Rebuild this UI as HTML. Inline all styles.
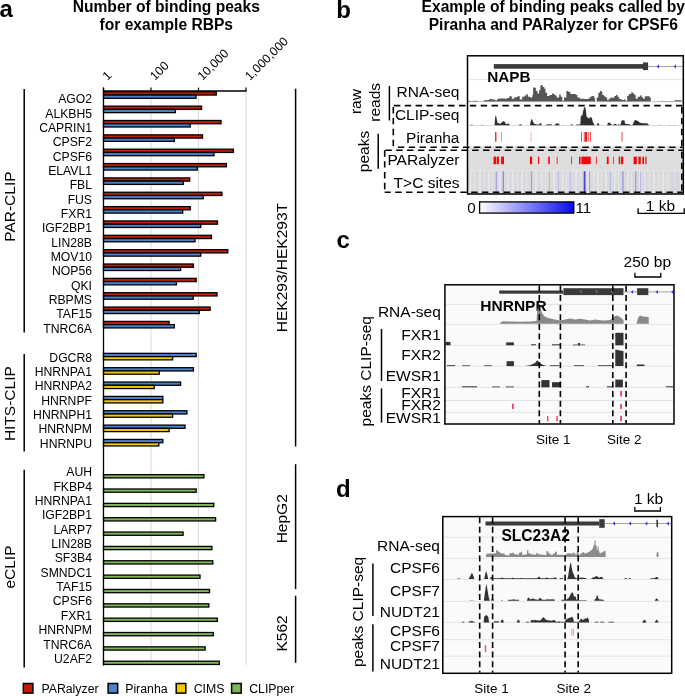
<!DOCTYPE html>
<html><head><meta charset="utf-8"><title>Figure</title>
<style>html,body{margin:0;padding:0;background:#fff;width:685px;height:696px;overflow:hidden}svg{display:block}</style>
</head><body>
<svg width="685" height="696" viewBox="0 0 685 696" font-family="'Liberation Sans', Arial, Helvetica, sans-serif" fill="#000">
<rect width="685" height="696" fill="#fff"/>
<text x="-0.6" y="16.6" font-size="24" font-weight="bold">a</text>
<text x="166.3" y="12" font-size="15.6" font-weight="bold" text-anchor="middle">Number of binding peaks</text>
<text x="166.3" y="29.8" font-size="15.6" font-weight="bold" text-anchor="middle">for example RBPs</text>
<line x1="151.00" y1="91" x2="151.00" y2="665" stroke="#d9d9d9" stroke-width="1"/>
<line x1="198.50" y1="91" x2="198.50" y2="665" stroke="#d9d9d9" stroke-width="1"/>
<line x1="246.00" y1="91" x2="246.00" y2="665" stroke="#d9d9d9" stroke-width="1"/>
<text transform="translate(107.50,81.0) rotate(-45)" font-size="12.4">1</text>
<text transform="translate(155.00,81.0) rotate(-45)" font-size="12.4">100</text>
<text transform="translate(202.50,81.0) rotate(-45)" font-size="12.4">10,000</text>
<text transform="translate(250.00,81.0) rotate(-45)" font-size="12.4">1,000,000</text>
<rect x="103.50" y="91.80" width="112.80" height="3.25" fill="#c41a08" stroke="#000" stroke-width="1.3"/>
<rect x="103.50" y="95.05" width="92.50" height="3.25" fill="#4a82cc" stroke="#000" stroke-width="1.3"/>
<text x="92" y="103.20" font-size="12.2" text-anchor="end">AGO2</text>
<rect x="103.50" y="106.15" width="98.10" height="3.25" fill="#c41a08" stroke="#000" stroke-width="1.3"/>
<rect x="103.50" y="109.40" width="71.90" height="3.25" fill="#4a82cc" stroke="#000" stroke-width="1.3"/>
<text x="92" y="117.55" font-size="12.2" text-anchor="end">ALKBH5</text>
<rect x="103.50" y="120.50" width="117.50" height="3.25" fill="#c41a08" stroke="#000" stroke-width="1.3"/>
<rect x="103.50" y="123.75" width="86.70" height="3.25" fill="#4a82cc" stroke="#000" stroke-width="1.3"/>
<text x="92" y="131.90" font-size="12.2" text-anchor="end">CAPRIN1</text>
<rect x="103.50" y="134.85" width="99.00" height="3.25" fill="#c41a08" stroke="#000" stroke-width="1.3"/>
<rect x="103.50" y="138.10" width="70.80" height="3.25" fill="#4a82cc" stroke="#000" stroke-width="1.3"/>
<text x="92" y="146.25" font-size="12.2" text-anchor="end">CPSF2</text>
<rect x="103.50" y="149.20" width="129.90" height="3.25" fill="#c41a08" stroke="#000" stroke-width="1.3"/>
<rect x="103.50" y="152.45" width="110.50" height="3.25" fill="#4a82cc" stroke="#000" stroke-width="1.3"/>
<text x="92" y="160.60" font-size="12.2" text-anchor="end">CPSF6</text>
<rect x="103.50" y="163.55" width="122.90" height="3.25" fill="#c41a08" stroke="#000" stroke-width="1.3"/>
<rect x="103.50" y="166.80" width="93.90" height="3.25" fill="#4a82cc" stroke="#000" stroke-width="1.3"/>
<text x="92" y="174.95" font-size="12.2" text-anchor="end">ELAVL1</text>
<rect x="103.50" y="177.90" width="86.20" height="3.25" fill="#c41a08" stroke="#000" stroke-width="1.3"/>
<rect x="103.50" y="181.15" width="79.90" height="3.25" fill="#4a82cc" stroke="#000" stroke-width="1.3"/>
<text x="92" y="189.30" font-size="12.2" text-anchor="end">FBL</text>
<rect x="103.50" y="192.25" width="118.40" height="3.25" fill="#c41a08" stroke="#000" stroke-width="1.3"/>
<rect x="103.50" y="195.50" width="99.70" height="3.25" fill="#4a82cc" stroke="#000" stroke-width="1.3"/>
<text x="92" y="203.65" font-size="12.2" text-anchor="end">FUS</text>
<rect x="103.50" y="206.60" width="86.70" height="3.25" fill="#c41a08" stroke="#000" stroke-width="1.3"/>
<rect x="103.50" y="209.85" width="79.20" height="3.25" fill="#4a82cc" stroke="#000" stroke-width="1.3"/>
<text x="92" y="218.00" font-size="12.2" text-anchor="end">FXR1</text>
<rect x="103.50" y="220.95" width="114.00" height="3.25" fill="#c41a08" stroke="#000" stroke-width="1.3"/>
<rect x="103.50" y="224.20" width="97.20" height="3.25" fill="#4a82cc" stroke="#000" stroke-width="1.3"/>
<text x="92" y="232.35" font-size="12.2" text-anchor="end">IGF2BP1</text>
<rect x="103.50" y="235.30" width="107.90" height="3.25" fill="#c41a08" stroke="#000" stroke-width="1.3"/>
<rect x="103.50" y="238.55" width="91.50" height="3.25" fill="#4a82cc" stroke="#000" stroke-width="1.3"/>
<text x="92" y="246.70" font-size="12.2" text-anchor="end">LIN28B</text>
<rect x="103.50" y="249.65" width="124.30" height="3.25" fill="#c41a08" stroke="#000" stroke-width="1.3"/>
<rect x="103.50" y="252.90" width="97.20" height="3.25" fill="#4a82cc" stroke="#000" stroke-width="1.3"/>
<text x="92" y="261.05" font-size="12.2" text-anchor="end">MOV10</text>
<rect x="103.50" y="264.00" width="89.90" height="3.25" fill="#c41a08" stroke="#000" stroke-width="1.3"/>
<rect x="103.50" y="267.25" width="77.10" height="3.25" fill="#4a82cc" stroke="#000" stroke-width="1.3"/>
<text x="92" y="275.40" font-size="12.2" text-anchor="end">NOP56</text>
<rect x="103.50" y="278.35" width="92.70" height="3.25" fill="#c41a08" stroke="#000" stroke-width="1.3"/>
<rect x="103.50" y="281.60" width="72.90" height="3.25" fill="#4a82cc" stroke="#000" stroke-width="1.3"/>
<text x="92" y="289.75" font-size="12.2" text-anchor="end">QKI</text>
<rect x="103.50" y="292.70" width="113.50" height="3.25" fill="#c41a08" stroke="#000" stroke-width="1.3"/>
<rect x="103.50" y="295.95" width="89.70" height="3.25" fill="#4a82cc" stroke="#000" stroke-width="1.3"/>
<text x="92" y="304.10" font-size="12.2" text-anchor="end">RBPMS</text>
<rect x="103.50" y="307.05" width="106.60" height="3.25" fill="#c41a08" stroke="#000" stroke-width="1.3"/>
<rect x="103.50" y="310.30" width="95.80" height="3.25" fill="#4a82cc" stroke="#000" stroke-width="1.3"/>
<text x="92" y="318.45" font-size="12.2" text-anchor="end">TAF15</text>
<rect x="103.50" y="321.40" width="65.60" height="3.25" fill="#c41a08" stroke="#000" stroke-width="1.3"/>
<rect x="103.50" y="324.65" width="70.80" height="3.25" fill="#4a82cc" stroke="#000" stroke-width="1.3"/>
<text x="92" y="332.80" font-size="12.2" text-anchor="end">TNRC6A</text>
<rect x="103.50" y="353.35" width="92.70" height="3.25" fill="#4a82cc" stroke="#000" stroke-width="1.3"/>
<rect x="103.50" y="356.60" width="69.10" height="3.25" fill="#f8c800" stroke="#000" stroke-width="1.3"/>
<text x="92" y="361.50" font-size="12.2" text-anchor="end">DGCR8</text>
<rect x="103.50" y="367.70" width="89.90" height="3.25" fill="#4a82cc" stroke="#000" stroke-width="1.3"/>
<rect x="103.50" y="370.95" width="55.80" height="3.25" fill="#f8c800" stroke="#000" stroke-width="1.3"/>
<text x="92" y="375.85" font-size="12.2" text-anchor="end">HNRNPA1</text>
<rect x="103.50" y="382.05" width="77.10" height="3.25" fill="#4a82cc" stroke="#000" stroke-width="1.3"/>
<rect x="103.50" y="385.30" width="50.70" height="3.25" fill="#f8c800" stroke="#000" stroke-width="1.3"/>
<text x="92" y="390.20" font-size="12.2" text-anchor="end">HNRNPA2</text>
<rect x="103.50" y="396.40" width="59.30" height="3.25" fill="#4a82cc" stroke="#000" stroke-width="1.3"/>
<rect x="103.50" y="399.65" width="59.30" height="3.25" fill="#f8c800" stroke="#000" stroke-width="1.3"/>
<text x="92" y="404.55" font-size="12.2" text-anchor="end">HNRNPF</text>
<rect x="103.50" y="410.75" width="83.40" height="3.25" fill="#4a82cc" stroke="#000" stroke-width="1.3"/>
<rect x="103.50" y="414.00" width="69.10" height="3.25" fill="#f8c800" stroke="#000" stroke-width="1.3"/>
<text x="92" y="418.90" font-size="12.2" text-anchor="end">HNRNPH1</text>
<rect x="103.50" y="425.10" width="81.50" height="3.25" fill="#4a82cc" stroke="#000" stroke-width="1.3"/>
<rect x="103.50" y="428.35" width="65.60" height="3.25" fill="#f8c800" stroke="#000" stroke-width="1.3"/>
<text x="92" y="433.25" font-size="12.2" text-anchor="end">HNRNPM</text>
<rect x="103.50" y="439.45" width="59.30" height="3.25" fill="#4a82cc" stroke="#000" stroke-width="1.3"/>
<rect x="103.50" y="442.70" width="55.30" height="3.25" fill="#f8c800" stroke="#000" stroke-width="1.3"/>
<text x="92" y="447.60" font-size="12.2" text-anchor="end">HNRNPU</text>
<rect x="103.50" y="474.65" width="100.40" height="3.25" fill="#7db65a" stroke="#000" stroke-width="1.3"/>
<text x="92" y="476.30" font-size="12.2" text-anchor="end">AUH</text>
<rect x="103.50" y="489.00" width="92.70" height="3.25" fill="#7db65a" stroke="#000" stroke-width="1.3"/>
<text x="92" y="490.65" font-size="12.2" text-anchor="end">FKBP4</text>
<rect x="103.50" y="503.35" width="110.30" height="3.25" fill="#7db65a" stroke="#000" stroke-width="1.3"/>
<text x="92" y="505.00" font-size="12.2" text-anchor="end">HNRNPA1</text>
<rect x="103.50" y="517.70" width="112.10" height="3.25" fill="#7db65a" stroke="#000" stroke-width="1.3"/>
<text x="92" y="519.35" font-size="12.2" text-anchor="end">IGF2BP1</text>
<rect x="103.50" y="532.05" width="79.60" height="3.25" fill="#7db65a" stroke="#000" stroke-width="1.3"/>
<text x="92" y="533.70" font-size="12.2" text-anchor="end">LARP7</text>
<rect x="103.50" y="546.40" width="108.40" height="3.25" fill="#7db65a" stroke="#000" stroke-width="1.3"/>
<text x="92" y="548.05" font-size="12.2" text-anchor="end">LIN28B</text>
<rect x="103.50" y="560.75" width="109.30" height="3.25" fill="#7db65a" stroke="#000" stroke-width="1.3"/>
<text x="92" y="562.40" font-size="12.2" text-anchor="end">SF3B4</text>
<rect x="103.50" y="575.10" width="96.50" height="3.25" fill="#7db65a" stroke="#000" stroke-width="1.3"/>
<text x="92" y="576.75" font-size="12.2" text-anchor="end">SMNDC1</text>
<rect x="103.50" y="589.45" width="106.00" height="3.25" fill="#7db65a" stroke="#000" stroke-width="1.3"/>
<text x="92" y="591.10" font-size="12.2" text-anchor="end">TAF15</text>
<rect x="103.50" y="603.80" width="105.30" height="3.25" fill="#7db65a" stroke="#000" stroke-width="1.3"/>
<text x="92" y="605.45" font-size="12.2" text-anchor="end">CPSF6</text>
<rect x="103.50" y="618.15" width="113.80" height="3.25" fill="#7db65a" stroke="#000" stroke-width="1.3"/>
<text x="92" y="619.80" font-size="12.2" text-anchor="end">FXR1</text>
<rect x="103.50" y="632.50" width="109.80" height="3.25" fill="#7db65a" stroke="#000" stroke-width="1.3"/>
<text x="92" y="634.15" font-size="12.2" text-anchor="end">HNRNPM</text>
<rect x="103.50" y="646.85" width="101.60" height="3.25" fill="#7db65a" stroke="#000" stroke-width="1.3"/>
<text x="92" y="648.50" font-size="12.2" text-anchor="end">TNRC6A</text>
<rect x="103.50" y="661.20" width="115.80" height="3.25" fill="#7db65a" stroke="#000" stroke-width="1.3"/>
<text x="92" y="662.85" font-size="12.2" text-anchor="end">U2AF2</text>
<line x1="103.5" y1="91" x2="246.60" y2="91" stroke="#000" stroke-width="1.3"/>
<line x1="103.50" y1="87.6" x2="103.50" y2="91" stroke="#000" stroke-width="1.2"/>
<line x1="151.00" y1="87.6" x2="151.00" y2="91" stroke="#000" stroke-width="1.2"/>
<line x1="198.50" y1="87.6" x2="198.50" y2="91" stroke="#000" stroke-width="1.2"/>
<line x1="246.00" y1="87.6" x2="246.00" y2="91" stroke="#000" stroke-width="1.2"/>
<line x1="103.5" y1="87.6" x2="103.5" y2="665.5" stroke="#000" stroke-width="1.3"/>
<line x1="24.2" y1="89" x2="24.2" y2="332.5" stroke="#000" stroke-width="1.5"/>
<line x1="24.2" y1="354" x2="24.2" y2="451.6" stroke="#000" stroke-width="1.5"/>
<line x1="24.2" y1="469.8" x2="24.2" y2="667.5" stroke="#000" stroke-width="1.5"/>
<text transform="translate(15.0,206.6) rotate(-90)" font-size="15.5" text-anchor="middle">PAR-CLIP</text>
<text transform="translate(15.0,403.65) rotate(-90)" font-size="15.5" text-anchor="middle">HITS-CLIP</text>
<text transform="translate(15.0,567.05) rotate(-90)" font-size="15.5" text-anchor="middle">eCLIP</text>
<line x1="295.6" y1="88.8" x2="295.6" y2="446.6" stroke="#000" stroke-width="1.5"/>
<line x1="295.6" y1="464.2" x2="295.6" y2="589.1" stroke="#000" stroke-width="1.5"/>
<line x1="295.6" y1="595.7" x2="295.6" y2="662.8" stroke="#000" stroke-width="1.5"/>
<text transform="translate(287.2,267.6) rotate(-90)" font-size="15.5" text-anchor="middle">HEK293/HEK293T</text>
<text transform="translate(287.2,518.8) rotate(-90)" font-size="15.5" text-anchor="middle">HepG2</text>
<text transform="translate(287.2,633.4) rotate(-90)" font-size="15.5" text-anchor="middle">K562</text>
<rect x="23.3" y="683.5" width="9.6" height="9.6" fill="#c41a08" stroke="#000" stroke-width="1.5"/>
<text x="41.4" y="692.5" font-size="12.3">PARalyzer</text>
<rect x="108.1" y="683.5" width="9.6" height="9.6" fill="#4a82cc" stroke="#000" stroke-width="1.5"/>
<text x="125.2" y="692.5" font-size="12.3">Piranha</text>
<rect x="176.2" y="683.5" width="9.6" height="9.6" fill="#f8c800" stroke="#000" stroke-width="1.5"/>
<text x="193.7" y="692.5" font-size="12.3">CIMS</text>
<rect x="231.6" y="683.5" width="9.6" height="9.6" fill="#7db65a" stroke="#000" stroke-width="1.5"/>
<text x="249.2" y="692.5" font-size="12.3">CLIPper</text>
<text x="336.2" y="17.6" font-size="24" font-weight="bold">b</text>
<text x="553.3" y="11.8" font-size="15.6" font-weight="bold" text-anchor="middle">Example of binding peaks called by</text>
<text x="553.3" y="29.5" font-size="15.6" font-weight="bold" text-anchor="middle">Piranha and PARalyzer for CPSF6</text>
<rect x="467.5" y="55.8" width="215.79999999999995" height="138.2" fill="#fff"/>
<rect x="467.5" y="146.3" width="215.79999999999995" height="47.69999999999999" fill="#dedede"/>
<rect x="467.5" y="171" width="215.79999999999995" height="23.0" fill="#dadada"/>
<rect x="470" y="171" width="1.5" height="23.0" fill="#e4e4ea"/>
<rect x="474" y="171" width="1" height="23.0" fill="#e4e4ea"/>
<rect x="479" y="171" width="2" height="23.0" fill="#e4e4ea"/>
<rect x="484" y="171" width="1" height="23.0" fill="#e4e4ea"/>
<rect x="488" y="171" width="2" height="23.0" fill="#e4e4ea"/>
<rect x="492" y="171" width="1" height="23.0" fill="#e4e4ea"/>
<rect x="499" y="171" width="2" height="23.0" fill="#e4e4ea"/>
<rect x="507" y="171" width="1.5" height="23.0" fill="#e4e4ea"/>
<rect x="512" y="171" width="2" height="23.0" fill="#e4e4ea"/>
<rect x="517" y="171" width="1" height="23.0" fill="#e4e4ea"/>
<rect x="521" y="171" width="2" height="23.0" fill="#e4e4ea"/>
<rect x="526" y="171" width="1" height="23.0" fill="#e4e4ea"/>
<rect x="535" y="171" width="2" height="23.0" fill="#e4e4ea"/>
<rect x="541" y="171" width="1.5" height="23.0" fill="#e4e4ea"/>
<rect x="545" y="171" width="1" height="23.0" fill="#e4e4ea"/>
<rect x="553" y="171" width="2" height="23.0" fill="#e4e4ea"/>
<rect x="562" y="171" width="1.5" height="23.0" fill="#e4e4ea"/>
<rect x="566" y="171" width="1" height="23.0" fill="#e4e4ea"/>
<rect x="575" y="171" width="2" height="23.0" fill="#e4e4ea"/>
<rect x="580" y="171" width="1" height="23.0" fill="#e4e4ea"/>
<rect x="587" y="171" width="2" height="23.0" fill="#e4e4ea"/>
<rect x="593" y="171" width="1.5" height="23.0" fill="#e4e4ea"/>
<rect x="597" y="171" width="2" height="23.0" fill="#e4e4ea"/>
<rect x="601" y="171" width="1" height="23.0" fill="#e4e4ea"/>
<rect x="605" y="171" width="2" height="23.0" fill="#e4e4ea"/>
<rect x="614" y="171" width="1.5" height="23.0" fill="#e4e4ea"/>
<rect x="618" y="171" width="1" height="23.0" fill="#e4e4ea"/>
<rect x="627" y="171" width="2" height="23.0" fill="#e4e4ea"/>
<rect x="631" y="171" width="1" height="23.0" fill="#e4e4ea"/>
<rect x="639" y="171" width="2" height="23.0" fill="#e4e4ea"/>
<rect x="644" y="171" width="1.5" height="23.0" fill="#e4e4ea"/>
<rect x="649" y="171" width="1" height="23.0" fill="#e4e4ea"/>
<rect x="653" y="171" width="2" height="23.0" fill="#e4e4ea"/>
<rect x="658" y="171" width="1" height="23.0" fill="#e4e4ea"/>
<rect x="662" y="171" width="2" height="23.0" fill="#e4e4ea"/>
<rect x="667" y="171" width="1" height="23.0" fill="#e4e4ea"/>
<rect x="671" y="171" width="1.5" height="23.0" fill="#e4e4ea"/>
<rect x="676" y="171" width="1" height="23.0" fill="#e4e4ea"/>
<rect x="680" y="171" width="1.5" height="23.0" fill="#e4e4ea"/>
<rect x="495.75" y="171" width="1.1" height="23.0" fill="#a0a0e2"/>
<rect x="502.65" y="171" width="1.3" height="23.0" fill="#8a8ae0"/>
<rect x="530.90" y="171" width="1.2" height="23.0" fill="#a0a0e6"/>
<rect x="549.00" y="171" width="1" height="23.0" fill="#b8b8ea"/>
<rect x="557.80" y="171" width="1" height="23.0" fill="#b8b8ea"/>
<rect x="569.90" y="171" width="1" height="23.0" fill="#bcbcec"/>
<rect x="583.70" y="171" width="1.8" height="23.0" fill="#4848d0"/>
<rect x="588.90" y="171" width="1.2" height="23.0" fill="#a4a4e8"/>
<rect x="609.80" y="171" width="1" height="23.0" fill="#b4b4ea"/>
<rect x="622.25" y="171" width="1.3" height="23.0" fill="#9898e2"/>
<rect x="635.05" y="171" width="1.3" height="23.0" fill="#9c9ce4"/>
<rect x="640.00" y="171" width="1" height="23.0" fill="#bcbcec"/>
<rect x="671.50" y="171" width="1" height="23.0" fill="#c4c4ee"/>
<rect x="676.50" y="171" width="1" height="23.0" fill="#c8c8ee"/>
<line x1="467.5" y1="170.8" x2="683.3" y2="170.8" stroke="#e6e6e6" stroke-width="0.8"/>
<line x1="467.5" y1="79.6" x2="683.3" y2="79.6" stroke="#e0e0e6" stroke-width="0.8"/>
<line x1="467.5" y1="101.8" x2="683.3" y2="101.8" stroke="#d8d8e0" stroke-width="0.8"/>
<line x1="467.5" y1="125.5" x2="683.3" y2="125.5" stroke="#d0d0e0" stroke-width="0.8"/>
<path d="M467.61,101.60 L467.61,100.69 L470.01,100.69 L470.01,101.02 L473.23,101.02 L473.23,100.69 L477.24,100.69 L477.24,101.18 L480.45,101.18 L480.45,101.18 L483.67,101.18 L483.67,100.37 L486.88,100.37 L486.88,99.89 L489.29,99.89 L489.29,99.09 L491.69,99.09 L491.69,99.41 L494.91,99.41 L494.91,100.37 L497.32,100.37 L497.32,98.77 L499.72,98.77 L499.72,98.45 L504.54,98.45 L504.54,98.77 L506.95,98.77 L506.95,97.96 L509.36,97.96 L509.36,96.20 L511.77,96.20 L511.77,98.77 L514.18,98.77 L514.18,97.16 L517.39,97.16 L517.39,96.36 L519.80,96.36 L519.80,99.41 L522.21,99.41 L522.21,96.68 L524.62,96.68 L524.62,95.56 L526.22,95.56 L526.22,94.27 L527.83,94.27 L527.83,96.68 L530.24,96.68 L530.24,97.48 L532.32,97.48 L532.32,95.07 L533.13,95.07 L533.13,87.53 L534.73,87.53 L534.73,87.85 L535.86,87.85 L535.86,91.06 L537.46,91.06 L537.46,93.47 L539.07,93.47 L539.07,90.26 L540.35,90.26 L540.35,85.44 L541.48,85.44 L541.48,84.96 L542.76,84.96 L542.76,87.04 L544.37,87.04 L544.37,88.65 L545.49,88.65 L545.49,92.67 L547.10,92.67 L547.10,95.88 L549.51,95.88 L549.51,95.07 L551.92,95.07 L551.92,93.47 L553.52,93.47 L553.52,94.27 L555.13,94.27 L555.13,95.56 L556.73,95.56 L556.73,97.48 L559.14,97.48 L559.14,94.59 L560.75,94.59 L560.75,96.68 L562.35,96.68 L562.35,100.69 L563.96,100.69 L563.96,97.48 L566.37,97.48 L566.37,91.06 L567.98,91.06 L567.98,91.86 L570.38,91.86 L570.38,93.95 L572.79,93.95 L572.79,93.95 L575.80,93.95 L575.80,98.29 L575.84,98.29 L575.84,95.07 L577.41,95.07 L577.41,97.48 L579.82,97.48 L579.82,98.77 L584.64,98.77 L584.64,99.09 L587.85,99.09 L587.85,98.77 L589.45,98.77 L589.45,97.16 L591.06,97.16 L591.06,96.20 L592.67,96.20 L592.67,95.88 L594.27,95.88 L594.27,98.29 L595.07,98.29 L595.07,101.50 L596.68,101.50 L596.68,97.48 L598.29,97.48 L598.29,92.67 L599.89,92.67 L599.89,91.06 L601.50,91.06 L601.50,91.86 L602.30,91.86 L602.30,95.07 L603.91,95.07 L603.91,96.20 L605.51,96.20 L605.51,97.48 L607.12,97.48 L607.12,99.89 L608.72,99.89 L608.72,98.77 L610.33,98.77 L610.33,97.48 L611.94,97.48 L611.94,97.80 L614.34,97.80 L614.34,95.88 L615.95,95.88 L615.95,95.07 L617.56,95.07 L617.56,96.68 L619.16,96.68 L619.16,99.09 L621.57,99.09 L621.57,99.89 L623.98,99.89 L623.98,99.41 L625.59,99.41 L625.59,100.69 L627.19,100.69 L627.19,95.88 L628.80,95.88 L628.80,93.95 L631.21,93.95 L631.21,92.34 L632.81,92.34 L632.81,93.47 L634.42,93.47 L634.42,95.07 L635.70,95.07 L635.70,98.77 L637.63,98.77 L637.63,96.68 L640.04,96.68 L640.04,95.56 L641.65,95.56 L641.65,97.16 L643.25,97.16 L643.25,98.77 L644.86,98.77 L644.86,96.20 L647.27,96.20 L647.27,96.36 L649.67,96.36 L649.67,97.48 L650.80,97.48 L650.80,101.50 L652.08,101.50 L652.08,101.82 L660.92,101.82 L660.92,101.82 L661.72,101.82 L661.72,100.69 L663.00,100.69 L663.00,101.82 L664.13,101.82 L664.13,101.02 L665.25,101.02 L665.25,101.82 L666.54,101.82 L666.54,101.02 L667.82,101.02 L667.82,101.82 L670.55,101.82 L670.55,101.02 L672.16,101.02 L672.16,101.82 L674.57,101.82 L674.57,100.37 L677.78,100.37 L677.78,100.37 L680.99,100.37 L680.99,100.69 L682.27,100.69 L682.27,101.66 L682.27,101.60 Z" fill="#555555"/>
<path d="M470.82,125.30 L470.82,125.29 L471.62,124.48 L473.23,125.29 L481.26,125.29 L482.06,124.64 L483.67,125.29 L494.59,125.29 L494.91,119.67 L495.39,115.65 L496.19,116.13 L496.83,119.67 L497.48,122.88 L498.92,123.36 L500.53,123.68 L502.13,122.07 L503.26,121.27 L504.54,121.59 L505.67,123.68 L506.95,124.16 L508.07,123.20 L509.04,124.00 L509.68,125.29 L519.00,125.29 L519.80,124.16 L521.40,124.48 L522.21,125.29 L529.92,125.29 L530.56,122.07 L531.52,118.86 L532.32,119.99 L533.13,122.07 L534.25,123.68 L536.66,124.48 L539.07,124.48 L539.87,123.20 L541.16,123.36 L541.80,125.29 L545.49,125.29 L546.30,124.48 L551.11,124.32 L552.72,125.29 L554.33,125.29 L555.13,124.32 L557.22,123.36 L558.82,123.68 L559.95,125.29 L562.35,125.29 L563.16,124.64 L563.96,125.29 L570.38,125.29 L571.19,124.16 L572.31,124.48 L573.27,125.29 L575.80,125.29 L575.84,125.29 L576.61,124.48 L579.01,124.48 L580.30,124.48 L580.78,115.65 L582.23,115.65 L583.03,111.64 L583.83,108.42 L584.64,106.82 L585.28,107.14 L585.92,110.83 L586.56,116.45 L587.20,117.26 L588.17,118.06 L589.13,118.86 L589.93,117.26 L591.06,117.26 L591.86,118.06 L592.67,121.27 L593.95,124.16 L595.07,125.29 L596.68,125.29 L597.48,123.20 L598.77,123.20 L599.41,125.29 L607.12,125.29 L607.92,122.88 L609.53,122.56 L611.13,124.16 L612.74,125.29 L614.34,124.00 L615.95,124.00 L617.56,125.29 L618.36,124.48 L620.77,124.48 L621.57,120.47 L623.18,120.15 L624.46,120.47 L625.10,123.68 L627.19,124.00 L629.60,124.16 L631.21,125.29 L632.81,124.48 L634.10,121.27 L635.22,119.99 L636.83,120.47 L638.43,121.59 L639.56,122.56 L642.45,123.20 L645.66,123.20 L648.07,123.68 L648.87,125.29 L659.31,125.29 L660.11,124.80 L660.92,125.29 L668.95,125.29 L669.75,124.80 L670.55,125.29 L673.28,125.29 L674.08,124.80 L674.89,125.29 L680.99,125.29 L680.99,125.30 Z" fill="#2e2e2e"/>
<rect x="495.1" y="132" width="1.30" height="9.7" fill="#ee1a1a"/>
<rect x="501.3" y="132" width="0.70" height="9.7" fill="#f06060"/>
<rect x="530.7" y="132" width="0.60" height="9.7" fill="#f07070"/>
<rect x="581.0" y="132" width="0.80" height="9.7" fill="#ee1a1a"/>
<rect x="583.8" y="132" width="0.80" height="9.7" fill="#ee1a1a"/>
<rect x="585.0" y="132" width="2.00" height="9.7" fill="#ee1a1a"/>
<rect x="587.8" y="132" width="0.80" height="9.7" fill="#ee1a1a"/>
<rect x="589.9" y="132" width="1.00" height="9.7" fill="#f04848"/>
<rect x="621.6" y="132" width="0.80" height="9.7" fill="#ee1a1a"/>
<rect x="493.5" y="156.6" width="2.50" height="7.6" fill="#f00a0a"/>
<rect x="496.6" y="156.6" width="2.30" height="7.6" fill="#f00a0a"/>
<rect x="501.1" y="156.6" width="2.90" height="7.6" fill="#f00a0a"/>
<rect x="529.9" y="156.6" width="2.30" height="7.6" fill="#f00a0a"/>
<rect x="538" y="156.6" width="1.10" height="7.6" fill="#f00a0a"/>
<rect x="548.2" y="156.6" width="1.60" height="7.6" fill="#f00a0a"/>
<rect x="556.7" y="156.6" width="0.80" height="7.6" fill="#f00a0a"/>
<rect x="571.2" y="156.6" width="0.80" height="7.6" fill="#f00a0a"/>
<rect x="579" y="156.6" width="1.60" height="7.6" fill="#f00a0a"/>
<rect x="581.4" y="156.6" width="9.30" height="7.6" fill="#f00a0a"/>
<rect x="595.9" y="156.6" width="0.80" height="7.6" fill="#f00a0a"/>
<rect x="606.8" y="156.6" width="1.90" height="7.6" fill="#f00a0a"/>
<rect x="613.2" y="156.6" width="0.70" height="7.6" fill="#f00a0a"/>
<rect x="618.7" y="156.6" width="1.30" height="7.6" fill="#f00a0a"/>
<rect x="620.8" y="156.6" width="2.40" height="7.6" fill="#f00a0a"/>
<rect x="633.6" y="156.6" width="3.20" height="7.6" fill="#f00a0a"/>
<rect x="638.4" y="156.6" width="2.40" height="7.6" fill="#f00a0a"/>
<rect x="642.4" y="156.6" width="1.60" height="7.6" fill="#f00a0a"/>
<rect x="645.3" y="156.6" width="1.20" height="7.6" fill="#f00a0a"/>
<rect x="493.8" y="64.1" width="149.5" height="4.6" fill="#3a3a3a"/>
<rect x="643" y="62.4" width="5.1" height="7.7" fill="#3a3a3a"/>
<line x1="648" y1="66.5" x2="683" y2="66.5" stroke="#8a8a8a" stroke-width="0.8"/>
<path d="M656.6,66.5 L659.0,64.6 L659.0,68.4 Z" fill="#3030f0"/>
<path d="M673.6,66.5 L676.0,64.6 L676.0,68.4 Z" fill="#3030f0"/>
<text x="487.2" y="82" font-size="15.3" font-weight="bold">NAPB</text>
<rect x="467.5" y="55.8" width="215.8" height="138.2" fill="none" stroke="#000" stroke-width="1.5"/>
<line x1="393.3" y1="105.6" x2="682.5" y2="105.6" stroke="#000" stroke-width="1.6" stroke-dasharray="6.4 4.45" stroke-dashoffset="-0.6"/>
<line x1="393.3" y1="147.3" x2="682.5" y2="147.3" stroke="#000" stroke-width="1.6" stroke-dasharray="6.4 4.45" stroke-dashoffset="-4.6"/>
<line x1="393.3" y1="105.6" x2="393.3" y2="147.3" stroke="#000" stroke-width="1.6" stroke-dasharray="6.4 4.45" stroke-dashoffset="-1.5"/>
<line x1="681.8" y1="105.6" x2="681.8" y2="147.3" stroke="#000" stroke-width="1.6" stroke-dasharray="6.4 4.45" stroke-dashoffset="-1.5"/>
<line x1="384.7" y1="150.3" x2="682.5" y2="150.3" stroke="#000" stroke-width="1.6" stroke-dasharray="6.4 4.45" stroke-dashoffset="-0.7"/>
<line x1="384.7" y1="192.2" x2="682.5" y2="192.2" stroke="#000" stroke-width="1.6" stroke-dasharray="6.4 4.45" stroke-dashoffset="-10.5"/>
<line x1="384.7" y1="150.3" x2="384.7" y2="192.2" stroke="#000" stroke-width="1.6" stroke-dasharray="6.4 4.45" stroke-dashoffset="0"/>
<line x1="681.8" y1="150.3" x2="681.8" y2="192.2" stroke="#000" stroke-width="1.6" stroke-dasharray="6.4 4.45" stroke-dashoffset="-1.5"/>
<text x="459.5" y="97.2" font-size="15.5" text-anchor="end">RNA-seq</text>
<text x="459.5" y="120" font-size="15.5" text-anchor="end">CLIP-seq</text>
<text x="459.5" y="142.6" font-size="15.5" text-anchor="end">Piranha</text>
<text x="459.5" y="165" font-size="15.5" text-anchor="end">PARalyzer</text>
<text x="459.5" y="187.5" font-size="15.5" text-anchor="end">T&gt;C sites</text>
<text transform="translate(361,101.6) rotate(-90)" font-size="15.5" text-anchor="middle">raw</text>
<text transform="translate(379.8,102.3) rotate(-90)" font-size="15.5" text-anchor="middle">reads</text>
<line x1="389.4" y1="86" x2="389.4" y2="120.5" stroke="#000" stroke-width="1.5"/>
<text transform="translate(368.6,151.5) rotate(-90)" font-size="15.5" text-anchor="middle">peaks</text>
<line x1="378.2" y1="133.8" x2="378.2" y2="168.8" stroke="#000" stroke-width="1.5"/>
<defs><linearGradient id="gb" x1="0" x2="1" y1="0" y2="0"><stop offset="0" stop-color="#ffffff"/><stop offset="1" stop-color="#0a0af0"/></linearGradient></defs>
<text x="467.3" y="213.1" font-size="15.2">0</text>
<rect x="479.6" y="201.9" width="94.2" height="11.2" fill="url(#gb)" stroke="#000" stroke-width="1.3"/>
<text x="575.4" y="213.3" font-size="15.2">11</text>
<text x="645.8" y="210.5" font-size="15.5">1 kb</text>
<path d="M638.1,208.3 V213.3 H684.2 V208.3" fill="none" stroke="#000" stroke-width="1.3"/>
<text x="336.4" y="247.8" font-size="24" font-weight="bold">c</text>
<rect x="444.9" y="284.8" width="229.1" height="139.2" fill="#fafafa"/>
<line x1="444.9" y1="304.4" x2="674.0" y2="304.4" stroke="#dcdce4" stroke-width="0.8"/>
<line x1="444.9" y1="324.4" x2="674.0" y2="324.4" stroke="#dcdce4" stroke-width="0.8"/>
<line x1="444.9" y1="345.3" x2="674.0" y2="345.3" stroke="#dcdce4" stroke-width="0.8"/>
<line x1="444.9" y1="366.1" x2="674.0" y2="366.1" stroke="#dcdce4" stroke-width="0.8"/>
<line x1="444.9" y1="387.3" x2="674.0" y2="387.3" stroke="#dcdce4" stroke-width="0.8"/>
<line x1="444.9" y1="400.5" x2="674.0" y2="400.5" stroke="#dcdce4" stroke-width="0.8"/>
<line x1="444.9" y1="412.4" x2="674.0" y2="412.4" stroke="#dcdce4" stroke-width="0.8"/>
<rect x="499.2" y="290.5" width="64" height="3.2" fill="#3a3a3a"/>
<rect x="563.4" y="288.2" width="60.1" height="6.9" fill="#3a3a3a"/>
<line x1="623.5" y1="291.9" x2="673" y2="291.9" stroke="#9a9a9a" stroke-width="0.9"/>
<rect x="637.1" y="288.2" width="11.2" height="6.9" fill="#3a3a3a"/>
<path d="M581.6,290.4 L580.4,291.6 L581.6,292.8" fill="none" stroke="#ddd" stroke-width="0.6"/>
<path d="M597.1,290.4 L595.9,291.6 L597.1,292.8" fill="none" stroke="#ddd" stroke-width="0.6"/>
<path d="M612.6,290.4 L611.4,291.6 L612.6,292.8" fill="none" stroke="#ddd" stroke-width="0.6"/>
<path d="M630.8,291.9 L633.2,290.0 L633.2,293.8 Z" fill="#3030f0"/>
<path d="M655.5,291.9 L657.9,290.0 L657.9,293.8 Z" fill="#3030f0"/>
<path d="M671.1,291.9 L673.5,290.0 L673.5,293.8 Z" fill="#3030f0"/>
<text x="480.3" y="310.7" font-size="15.5" font-weight="bold">HNRNPR</text>
<path d="M499.60,323.80 L499.60,323.80 L501.00,322.00 L503.00,321.20 L510.00,321.60 L520.00,321.80 L530.00,321.50 L536.50,321.00 L537.20,310.00 L538.50,306.30 L540.50,306.50 L541.60,312.00 L544.00,316.00 L548.00,318.00 L555.00,319.50 L560.00,320.50 L565.00,319.50 L570.00,318.50 L575.00,319.50 L580.00,318.80 L585.00,319.50 L590.00,320.50 L595.00,319.50 L600.00,320.30 L605.00,320.50 L610.00,320.00 L612.80,318.00 L615.00,316.00 L617.00,315.60 L620.00,317.00 L623.50,320.00 L623.60,323.80 L623.60,323.80 Z" fill="#8a8a8a"/>
<path d="M636.50,323.80 L636.50,323.80 L638.00,318.00 L640.00,315.60 L643.00,316.50 L648.70,317.00 L648.80,323.80 L648.80,323.80 Z" fill="#8a8a8a"/>
<rect x="445.6" y="341.9" width="4.90" height="3.40" fill="#333"/>
<rect x="506.2" y="342.4" width="7.70" height="2.90" fill="#333"/>
<rect x="615.3" y="332.8" width="8.20" height="12.50" fill="#333"/>
<rect x="531" y="344.3" width="5.00" height="1.00" fill="#333"/>
<rect x="552" y="344.3" width="8.00" height="1.00" fill="#333"/>
<rect x="573" y="344.6" width="12.00" height="0.70" fill="#333"/>
<rect x="578" y="343" width="2.00" height="2.30" fill="#333"/>
<rect x="506.6" y="361.2" width="7.30" height="4.90" fill="#333"/>
<path d="M525.00,366.10 L525.00,366.10 L530.00,365.30 L535.00,363.00 L537.20,360.30 L539.00,362.00 L542.00,364.50 L545.00,365.50 L546.00,366.10 L546.00,366.10 Z" fill="#333"/>
<path d="M615.3,366.1 L615.3,349.4 L623.5,351.2 L623.5,366.1 Z" fill="#333"/>
<rect x="636.9" y="364.5" width="7.50" height="1.60" fill="#333"/>
<rect x="447" y="365.2" width="8.00" height="0.90" fill="#333"/>
<rect x="462" y="365.4" width="8.00" height="0.70" fill="#333"/>
<rect x="484" y="365.4" width="8.00" height="0.70" fill="#333"/>
<rect x="550" y="365.3" width="9.00" height="0.80" fill="#333"/>
<rect x="574" y="365.3" width="10.00" height="0.80" fill="#333"/>
<rect x="598" y="365.3" width="14.00" height="0.80" fill="#333"/>
<rect x="541.3" y="380.1" width="8.20" height="7.20" fill="#333"/>
<rect x="552" y="382.2" width="8.40" height="5.10" fill="#333"/>
<rect x="615.3" y="379.6" width="7.60" height="7.70" fill="#333"/>
<rect x="462" y="386.3" width="15.00" height="1.00" fill="#333"/>
<rect x="492" y="386.5" width="8.00" height="0.80" fill="#333"/>
<rect x="506" y="386.5" width="8.00" height="0.80" fill="#333"/>
<rect x="586" y="386.3" width="3.00" height="1.00" fill="#333"/>
<rect x="607" y="386.3" width="6.00" height="1.00" fill="#333"/>
<rect x="666" y="386.3" width="7.00" height="1.00" fill="#333"/>
<rect x="620.3" y="391" width="1.50" height="5.40" fill="#f0143c"/>
<rect x="512.2" y="403.7" width="1.40" height="5.30" fill="#f0143c"/>
<rect x="620.3" y="404" width="1.50" height="4.90" fill="#f0143c"/>
<rect x="547.2" y="416" width="1.10" height="5.30" fill="#f0143c"/>
<rect x="556.5" y="416" width="1.20" height="5.30" fill="#f0143c"/>
<rect x="620.3" y="415.8" width="1.50" height="5.40" fill="#f0143c"/>
<line x1="539.3" y1="285.5" x2="539.3" y2="423.5" stroke="#000" stroke-width="1.6" stroke-dasharray="6 3.6"/>
<line x1="560.4" y1="285.5" x2="560.4" y2="423.5" stroke="#000" stroke-width="1.6" stroke-dasharray="6 3.6"/>
<line x1="612.8" y1="285.5" x2="612.8" y2="423.5" stroke="#000" stroke-width="1.6" stroke-dasharray="6 3.6"/>
<line x1="626.1" y1="285.5" x2="626.1" y2="423.5" stroke="#000" stroke-width="1.6" stroke-dasharray="6 3.6"/>
<rect x="444.9" y="284.8" width="229.1" height="139.2" fill="none" stroke="#000" stroke-width="1.5"/>
<text x="623.6" y="267.4" font-size="15.5">250 bp</text>
<path d="M634.9,272.8 V277 H660.8 V272.8" fill="none" stroke="#000" stroke-width="1.3"/>
<text x="440.8" y="317" font-size="15.5" text-anchor="end">RNA-seq</text>
<text x="440.8" y="340.1" font-size="15.5" text-anchor="end">FXR1</text>
<text x="440.8" y="360.3" font-size="15.5" text-anchor="end">FXR2</text>
<text x="440.8" y="381" font-size="15.5" text-anchor="end">EWSR1</text>
<text x="440.8" y="398" font-size="15.5" text-anchor="end">FXR1</text>
<text x="440.8" y="410.2" font-size="15.5" text-anchor="end">FXR2</text>
<text x="440.8" y="422.8" font-size="15.5" text-anchor="end">EWSR1</text>
<text transform="translate(370.6,426.4) rotate(-90)" font-size="15.5">peaks CLIP-seq</text>
<line x1="381.5" y1="328.9" x2="381.5" y2="381" stroke="#000" stroke-width="1.5"/>
<line x1="381.5" y1="388.4" x2="381.5" y2="422.6" stroke="#000" stroke-width="1.5"/>
<text x="536.1" y="444.3" font-size="13.5">Site 1</text>
<text x="607.1" y="444.3" font-size="13.5">Site 2</text>
<text x="336.1" y="496.7" font-size="24" font-weight="bold">d</text>
<rect x="442.8" y="516.6" width="228.9" height="156.7" fill="#fafafa"/>
<line x1="442.8" y1="537.3" x2="671.7" y2="537.3" stroke="#dcdce4" stroke-width="0.8"/>
<line x1="442.8" y1="558.4" x2="671.7" y2="558.4" stroke="#dcdce4" stroke-width="0.8"/>
<line x1="442.8" y1="579.5" x2="671.7" y2="579.5" stroke="#dcdce4" stroke-width="0.8"/>
<line x1="442.8" y1="601.4" x2="671.7" y2="601.4" stroke="#dcdce4" stroke-width="0.8"/>
<line x1="442.8" y1="622.4" x2="671.7" y2="622.4" stroke="#dcdce4" stroke-width="0.8"/>
<line x1="442.8" y1="639.7" x2="671.7" y2="639.7" stroke="#dcdce4" stroke-width="0.8"/>
<line x1="442.8" y1="656.2" x2="671.7" y2="656.2" stroke="#dcdce4" stroke-width="0.8"/>
<rect x="485.5" y="521.5" width="113.7" height="4" fill="#3a3a3a"/>
<rect x="599.2" y="519.2" width="5.5" height="8.6" fill="#3a3a3a"/>
<line x1="604.7" y1="523.5" x2="671" y2="523.5" stroke="#9a9a9a" stroke-width="0.9"/>
<rect x="656.4" y="519.8" width="1.6" height="7.2" fill="#3a3a3a"/>
<path d="M612.6,523.5 L615.0,521.6 L615.0,525.4 Z" fill="#3030f0"/>
<path d="M628.7,523.5 L631.1,521.6 L631.1,525.4 Z" fill="#3030f0"/>
<path d="M644.9,523.5 L647.3,521.6 L647.3,525.4 Z" fill="#3030f0"/>
<path d="M666.5,523.5 L668.9,521.6 L668.9,525.4 Z" fill="#3030f0"/>
<text x="501.4" y="540.8" font-size="15.6" font-weight="bold">SLC23A2</text>
<path d="M485.69,557.00 L485.69,556.98 L485.88,556.98 L485.88,555.08 L486.64,555.08 L486.64,553.56 L491.39,553.56 L491.39,553.75 L493.28,553.75 L493.28,553.18 L496.13,553.18 L496.13,550.33 L498.03,550.33 L498.03,551.66 L499.92,551.66 L499.92,553.18 L502.77,553.18 L502.77,553.56 L504.67,553.56 L504.67,555.08 L507.51,555.08 L507.51,555.46 L509.41,555.46 L509.41,553.18 L512.26,553.18 L512.26,552.80 L514.16,552.80 L514.16,554.13 L517.00,554.13 L517.00,554.70 L518.90,554.70 L518.90,552.80 L520.80,552.80 L520.80,551.66 L522.13,551.66 L522.13,554.70 L525.54,554.70 L525.54,554.13 L527.06,554.13 L527.06,550.33 L528.39,550.33 L528.39,553.18 L530.28,553.18 L530.28,554.13 L533.13,554.13 L533.13,554.70 L535.98,554.70 L535.98,553.18 L537.87,553.18 L537.87,554.13 L540.72,554.13 L540.72,554.70 L543.57,554.70 L543.57,555.08 L546.41,555.08 L546.41,551.28 L548.31,551.28 L548.31,553.18 L550.21,553.18 L550.21,554.70 L553.06,554.70 L553.06,553.56 L554.95,553.56 L554.95,551.66 L556.85,551.66 L556.85,554.70 L559.70,554.70 L559.70,554.70 L562.54,554.70 L562.54,555.08 L565.39,555.08 L565.39,554.13 L567.29,554.13 L567.29,553.18 L570.13,553.18 L570.13,553.56 L572.98,553.56 L572.98,552.80 L574.88,552.80 L574.88,554.13 L576.77,554.13 L576.77,551.28 L578.67,551.28 L578.67,554.70 L580.57,554.70 L580.57,553.18 L582.47,553.18 L582.47,552.23 L584.36,552.23 L584.36,553.56 L586.26,553.56 L586.26,552.80 L588.16,552.80 L588.16,551.66 L590.06,551.66 L590.06,550.33 L591.95,550.33 L591.95,549.01 L592.90,549.01 L592.90,546.54 L593.85,546.54 L593.85,544.64 L594.42,544.64 L594.42,540.85 L594.99,540.85 L594.99,540.28 L595.56,540.28 L595.56,545.59 L596.70,545.59 L596.70,549.39 L597.65,549.39 L597.65,546.54 L598.60,546.54 L598.60,551.28 L599.54,551.28 L599.54,553.18 L601.44,553.18 L601.44,552.23 L603.34,552.23 L603.34,551.28 L604.29,551.28 L604.29,550.90 L605.24,550.90 L605.24,551.28 L605.62,551.28 L605.62,556.98 L605.62,557.00 Z" fill="#8a8a8a"/>
<path d="M656.50,557.00 L656.50,557.00 L656.70,552.50 L658.30,552.00 L658.60,557.00 L658.60,557.00 Z" fill="#8a8a8a"/>
<path d="M457.59,579.00 L457.59,578.98 L457.59,578.48 L460.11,578.48 L460.11,578.98 L460.11,579.00 Z" fill="#333"/>
<path d="M468.50,579.00 L468.50,578.98 L469.84,576.80 L471.02,574.45 L471.86,572.77 L472.70,573.95 L473.54,576.47 L474.38,578.98 L474.38,579.00 Z" fill="#333"/>
<path d="M484.11,579.00 L484.11,578.98 L484.95,575.63 L485.62,572.27 L486.13,571.43 L486.80,572.77 L487.47,575.63 L488.31,578.98 L488.31,579.00 Z" fill="#333"/>
<path d="M489.99,579.00 L489.99,578.98 L490.66,576.80 L492.00,577.31 L493.35,578.14 L494.02,578.31 L500.40,578.31 L501.24,577.81 L502.92,577.81 L503.75,578.31 L511.31,578.31 L512.15,577.81 L513.83,577.98 L514.67,578.31 L520.54,578.31 L521.38,577.64 L522.22,578.31 L537.33,578.31 L538.17,577.14 L539.01,576.47 L539.85,577.14 L540.69,578.31 L545.39,578.31 L546.23,577.47 L547.40,577.81 L548.24,578.31 L553.78,578.31 L554.45,577.31 L555.79,577.47 L556.63,578.31 L556.63,578.98 L556.63,579.00 Z" fill="#333"/>
<path d="M559.68,579.00 L559.68,578.98 L559.68,578.14 L563.04,578.14 L563.04,578.98 L563.04,579.00 Z" fill="#333"/>
<path d="M567.23,579.00 L567.23,578.98 L568.07,576.47 L569.08,569.75 L570.09,563.88 L570.59,563.04 L571.09,563.04 L571.77,568.07 L572.77,572.27 L573.95,574.79 L574.79,577.31 L576.47,578.14 L578.98,577.98 L580.66,577.47 L583.18,577.81 L586.54,578.14 L586.54,578.98 L586.54,579.00 Z" fill="#333"/>
<path d="M590.73,579.00 L590.73,578.98 L592.41,577.81 L594.09,577.31 L595.77,576.47 L596.61,575.63 L597.62,576.80 L599.13,577.81 L600.81,576.97 L601.65,576.80 L602.65,577.81 L603.66,578.98 L603.66,579.00 Z" fill="#333"/>
<path d="M624.31,579.00 L624.31,578.98 L624.64,578.14 L626.83,578.14 L627.67,578.98 L628.51,578.98 L628.84,578.14 L631.02,578.14 L631.02,578.98 L631.02,579.00 Z" fill="#333"/>
<path d="M650.33,579.00 L650.33,578.98 L650.66,578.31 L654.53,578.14 L656.20,576.97 L657.04,576.97 L658.05,577.81 L658.72,578.98 L658.72,579.00 Z" fill="#333"/>
<path d="M469.34,600.80 L469.34,600.82 L469.34,600.14 L473.54,600.14 L473.54,600.82 L473.54,600.80 Z" fill="#888"/>
<path d="M483.95,600.80 L483.95,600.82 L484.45,595.95 L485.29,590.07 L486.13,584.70 L486.46,584.20 L486.97,586.71 L487.81,591.75 L488.65,596.79 L489.49,599.81 L489.99,600.82 L489.99,600.80 Z" fill="#333"/>
<path d="M491.16,600.80 L491.16,600.82 L491.67,598.80 L492.51,598.13 L493.68,599.81 L494.02,600.82 L501.24,600.82 L501.57,600.14 L502.92,600.14 L502.92,600.82 L507.95,600.82 L508.45,599.81 L512.15,599.64 L513.83,599.14 L515.51,599.64 L518.86,599.64 L519.20,600.82 L526.92,600.82 L527.59,598.13 L528.60,597.46 L529.77,598.80 L530.95,599.47 L532.29,598.47 L533.64,598.80 L535.65,599.47 L538.34,599.81 L539.01,598.47 L540.01,597.79 L541.02,598.80 L542.36,599.81 L545.72,599.81 L547.40,599.14 L549.92,599.47 L552.44,599.14 L554.45,599.47 L555.12,600.82 L555.12,600.80 Z" fill="#333"/>
<path d="M561.36,600.80 L561.36,600.82 L561.36,599.81 L566.39,599.81 L567.23,598.80 L568.91,597.63 L570.59,594.27 L572.27,592.09 L573.11,593.43 L573.95,596.79 L574.79,595.95 L575.63,596.79 L576.47,599.81 L579.82,600.14 L586.54,600.14 L586.54,600.82 L586.54,600.80 Z" fill="#333"/>
<path d="M594.09,600.80 L594.09,600.82 L594.93,599.31 L595.94,598.80 L596.95,595.11 L597.62,595.44 L598.29,598.13 L599.13,599.31 L603.32,599.81 L604.16,600.82 L604.16,600.80 Z" fill="#333"/>
<path d="M654.53,600.80 L654.53,600.82 L655.70,599.31 L656.71,598.13 L657.71,599.14 L658.72,600.82 L658.72,600.80 Z" fill="#333"/>
<path d="M461.79,622.50 L461.79,622.48 L461.79,621.81 L464.31,621.81 L464.31,622.48 L468.50,622.48 L469.34,620.97 L470.52,621.47 L471.86,620.80 L473.54,621.47 L475.22,622.48 L475.22,622.50 Z" fill="#333"/>
<path d="M483.61,622.50 L483.61,622.48 L484.11,616.77 L485.29,615.77 L486.13,615.09 L487.30,615.77 L488.31,617.11 L488.98,621.81 L489.49,622.48 L493.68,622.48 L494.02,621.31 L498.72,621.31 L499.05,622.48 L500.40,622.48 L501.24,620.13 L502.08,619.46 L503.08,620.13 L504.09,622.48 L516.85,622.48 L517.52,620.13 L518.36,619.46 L519.20,620.13 L520.04,622.48 L525.58,622.48 L525.91,621.81 L528.93,621.81 L529.27,622.48 L530.28,622.48 L530.95,620.47 L532.29,619.79 L533.64,620.47 L534.98,619.63 L536.49,620.13 L539.01,620.47 L540.69,620.13 L542.03,618.45 L543.20,617.11 L544.38,618.12 L545.72,619.46 L547.40,620.13 L549.08,620.13 L550.42,620.80 L552.44,620.47 L554.12,619.79 L555.12,620.80 L556.13,621.81 L559.99,621.81 L559.99,622.48 L559.99,622.50 Z" fill="#333"/>
<path d="M558.00,622.50 L558.00,622.48 L558.00,621.81 L564.71,621.81 L565.55,620.13 L567.23,618.79 L568.91,618.12 L570.59,617.44 L571.77,616.77 L573.11,618.12 L573.95,621.81 L578.98,621.81 L580.16,619.46 L581.50,618.79 L582.84,620.13 L584.52,618.79 L586.20,618.45 L587.38,617.44 L588.55,618.79 L589.22,622.48 L589.22,622.50 Z" fill="#333"/>
<path d="M594.93,622.50 L594.93,622.48 L594.93,621.81 L598.29,621.81 L598.29,622.48 L600.30,622.48 L600.30,621.81 L604.16,621.81 L604.16,622.48 L604.16,622.50 Z" fill="#333"/>
<path d="M608.36,622.50 L608.36,622.48 L608.36,621.81 L614.24,621.81 L614.24,622.48 L614.24,622.50 Z" fill="#333"/>
<path d="M641.93,622.50 L641.93,622.48 L643.28,620.80 L644.45,619.46 L645.63,620.80 L646.64,622.48 L646.64,622.50 Z" fill="#333"/>
<path d="M654.53,622.50 L654.53,622.48 L655.70,620.80 L656.71,619.46 L657.71,620.80 L658.72,622.48 L658.72,622.50 Z" fill="#333"/>
<rect x="571.6" y="628.7" width="0.70" height="6.90" fill="#f36a8a"/>
<rect x="573" y="628.7" width="0.70" height="6.90" fill="#f36a8a"/>
<rect x="484.8" y="645.2" width="1.40" height="6.80" fill="#f0506e"/>
<line x1="479.7" y1="517.2" x2="479.7" y2="672.8" stroke="#000" stroke-width="1.6" stroke-dasharray="6 3.6"/>
<line x1="492.6" y1="517.2" x2="492.6" y2="672.8" stroke="#000" stroke-width="1.6" stroke-dasharray="6 3.6"/>
<line x1="565.1" y1="517.2" x2="565.1" y2="672.8" stroke="#000" stroke-width="1.6" stroke-dasharray="6 3.6"/>
<line x1="578.2" y1="517.2" x2="578.2" y2="672.8" stroke="#000" stroke-width="1.6" stroke-dasharray="6 3.6"/>
<rect x="442.8" y="516.6" width="228.9" height="156.7" fill="none" stroke="#000" stroke-width="1.5"/>
<text x="633.9" y="503.8" font-size="15.5">1 kb</text>
<path d="M634.8,507 V511 H660.4 V507" fill="none" stroke="#000" stroke-width="1.3"/>
<text x="440" y="551" font-size="15.5" text-anchor="end">RNA-seq</text>
<text x="440" y="573.4" font-size="15.5" text-anchor="end">CPSF6</text>
<text x="440" y="595.8" font-size="15.5" text-anchor="end">CPSF7</text>
<text x="440" y="617.2" font-size="15.5" text-anchor="end">NUDT21</text>
<text x="440" y="635.6" font-size="15.5" text-anchor="end">CPSF6</text>
<text x="440" y="651" font-size="15.5" text-anchor="end">CPSF7</text>
<text x="440" y="669.2" font-size="15.5" text-anchor="end">NUDT21</text>
<text transform="translate(362.6,667.1) rotate(-90)" font-size="15.5">peaks CLIP-seq</text>
<line x1="372.9" y1="563.4" x2="372.9" y2="616" stroke="#000" stroke-width="1.5"/>
<line x1="372.9" y1="624.2" x2="372.9" y2="671.5" stroke="#000" stroke-width="1.5"/>
<text x="474.3" y="692.5" font-size="13.5">Site 1</text>
<text x="556.6" y="692.5" font-size="13.5">Site 2</text>
</svg>
</body></html>
